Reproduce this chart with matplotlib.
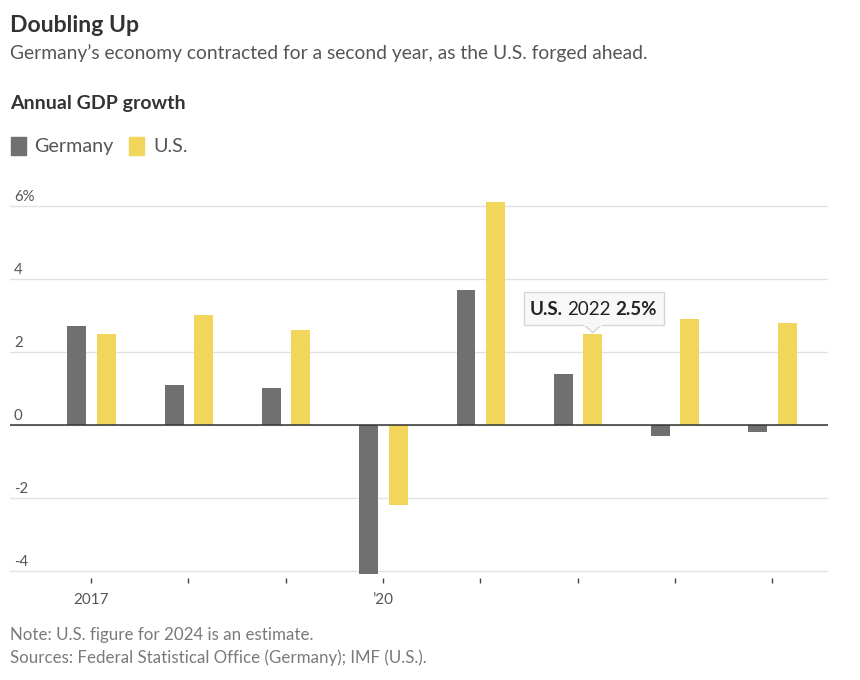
import numpy as np
import matplotlib
matplotlib.use('Agg')
import matplotlib.pyplot as plt
from matplotlib.lines import Line2D
from matplotlib.patches import Patch, Polygon, Rectangle
from matplotlib.transforms import IdentityTransform

years = [2017, 2018, 2019, 2020, 2021, 2022, 2023, 2024]
germany = [2.7, 1.1, 1.0, -4.1, 3.7, 1.4, -0.3, -0.2]
us = [2.5, 3.0, 2.6, -2.2, 6.1, 2.5, 2.9, 2.8]
y_ticks = [-4, -2, 0, 2, 4, 6]
y_labels = ['-4', '-2', '0', '2', '4', '6%']
x_labels = {2017: '2017', 2020: '\u201920'}

W, H = 860, 680
GREY = '#707070'
YELLOW = '#f2d65c'
DARK = '#333333'
TEXT = '#555555'
LIGHT = '#7a7a7a'

plt.rcParams['font.family'] = ['Lato', 'DejaVu Sans']


def fx(px):
    return px / W


def fy(px):
    return 1 - px / H


fig = plt.figure(figsize=(W / 100, H / 100), dpi=100, facecolor='white')
ax = fig.add_axes([fx(10), fy(575.3), (828 - 10) / W, (576 - 190) / H])
ax.set_xlim(2017 - 81 / 97.3, 2017 + 737 / 97.3)
ax.set_ylim(-150.5 / 36.5, 235.5 / 36.5)

x = np.array(years)
ax.bar(x - 0.146, germany, width=0.195, color=GREY, zorder=3)
ax.bar(x + 0.156, us, width=0.195, color=YELLOW, zorder=3)

for spine in ax.spines.values():
    spine.set_visible(False)
ax.spines['bottom'].set_position(('outward', 2.2))

ax.set_yticks(y_ticks)
ax.set_yticklabels([])
ax.tick_params(axis='y', length=0)
ax.grid(axis='y', color='#e2e2e2', linewidth=1, zorder=0)
ax.axhline(0, color='#333333', linewidth=1.1, zorder=4)
for v, lab in zip(y_ticks, y_labels):
    # labels sit on top of their gridlines, at the left edge
    ax.annotate(lab, (0, v), xycoords=ax.get_yaxis_transform(), xytext=(4, 2),
                textcoords='offset pixels', fontsize=10.8, color=TEXT, va='bottom', ha='left')

ax.set_xticks(years)
ax.set_xticklabels([x_labels.get(y, '') for y in years], fontsize=11, color=TEXT)
ax.tick_params(axis='x', length=3.5, width=1, color='#444444', pad=6.7)
ax.xaxis.set_ticks_position('bottom')

# title block
fig.text(fx(10), fy(25), 'Doubling Up', fontsize=16.6, fontweight='bold', color=DARK, va='center')
fig.text(fx(10), fy(53), 'Germany\u2019s economy contracted for a second year, as the U.S. forged ahead.',
         fontsize=13.85, color=TEXT, va='center')
fig.text(fx(10), fy(103), 'Annual GDP growth', fontsize=14, fontweight='bold', color=DARK, va='center')

# legend
handles = [Patch(color=GREY, label='Germany'), Patch(color=YELLOW, label='U.S.')]
fig.legend(handles=handles, loc='center left', bbox_to_anchor=(fx(-7), fy(146)), ncol=2, frameon=False,
           fontsize=14.2, labelcolor=TEXT, handlelength=0.75, handleheight=1.05, handletextpad=0.45,
           columnspacing=0.8)

# tooltip on the 2022 U.S. bar
idx = years.index(2022)
tip_x, tip_y = ax.transData.transform((years[idx] + 0.156, us[idx]))
box_l, box_b, box_w, box_h = tip_x - 69, tip_y + 9, 140, 33
ident = IdentityTransform()
fig.add_artist(Rectangle((box_l, box_b), box_w, box_h, transform=ident, facecolor='#f8f8f8',
                         edgecolor='#d5d5d5', linewidth=1, zorder=5))
fig.add_artist(Polygon([(tip_x - 9, box_b), (tip_x + 9, box_b), (tip_x, tip_y + 1)], closed=True,
                       transform=ident, facecolor='#f8f8f8', edgecolor='#d5d5d5', linewidth=1, zorder=5))
fig.add_artist(Line2D([tip_x - 8, tip_x + 8], [box_b, box_b], transform=ident, color='#f8f8f8',
                      linewidth=1.5, zorder=6))
tcy = box_b + box_h / 2 - 1
parts = [('U.S.', 'bold', 6), (str(years[idx]), 'normal', 43), (f'{us[idx]}%', 'bold', 92)]
for s, weight, off in parts:
    fig.text((box_l + off) / W, tcy / H, s, fontsize=13.5, fontweight=weight, color='#222222',
             va='center', ha='left', zorder=7)

# footer
fig.text(fx(10), fy(635), 'Note: U.S. figure for 2024 is an estimate.', fontsize=12.2, color=LIGHT, va='center')
fig.text(fx(10), fy(658), 'Sources: Federal Statistical Office (Germany); IMF (U.S.).', fontsize=12.2,
         color=LIGHT, va='center')

fig.savefig('out.png', dpi=100, facecolor='white')
